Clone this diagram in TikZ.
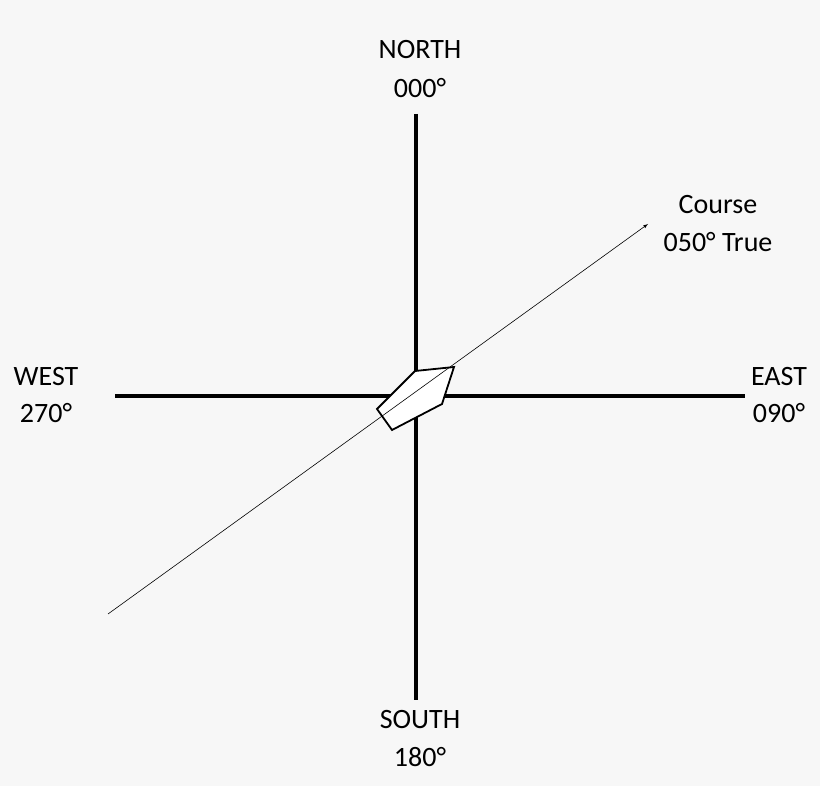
\documentclass[tikz,border=0pt]{standalone}
\usepackage{fontspec}
\setmainfont{Carlito}
\begin{document}
\begin{tikzpicture}[x=1pt,y=-1pt,
  lbl/.style={font=\fontsize{28}{32}\selectfont,inner sep=0pt},
  axis/.style={line width=3.5pt}]
\fill[fill={rgb,255:red,247;green,247;blue,247}] (0,0) rectangle (820,786);
\useasboundingbox (0,0) rectangle (820,786);
\coordinate (n) at (416,114); \coordinate (s) at (416,700);
\coordinate (w) at (115,396); \coordinate (e) at (745,396);
\draw[axis] (n) -- (s);
\draw[axis] (w) -- (e);
\draw[fill=white,line width=1.8pt,line join=miter] (415,371) -- (454,367) -- (442,404) -- (392,430) -- (377,409) -- cycle;
\coordinate (cs) at (108,614); \coordinate (ce) at (648,224);
\draw[line width=0.6pt,-latex] (cs) -- (ce);
\node[lbl] (north) at (420,50) {NORTH};
\node[lbl] (north2) at (420,88) {000°};
\node[lbl] (south) at (420,720) {SOUTH};
\node[lbl] (south2) at (420,757) {180°};
\node[lbl] (west) at (46,377) {WEST};
\node[lbl] (west2) at (46,413) {270°};
\node[lbl] (east) at (779,377) {EAST};
\node[lbl] (east2) at (779,413) {090°};
\node[lbl] (course) at (718,205) {Course};
\node[lbl] (course2) at (718,242) {050° True};
\end{tikzpicture}
\end{document}
